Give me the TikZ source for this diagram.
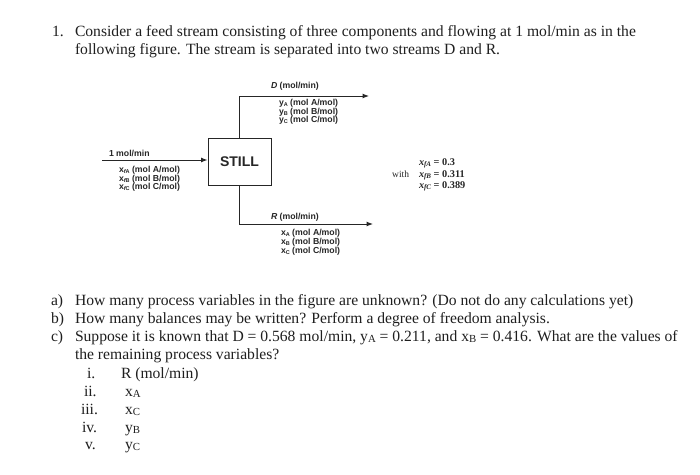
\documentclass[tikz,border=0pt]{standalone}
\usepackage{fontspec}
\setmainfont{Liberation Serif}
\newfontfamily\lsans{Liberation Sans}
\usetikzlibrary{arrows.meta}
\newcommand{\sbs}[1]{\raisebox{-1.2pt}{\fontsize{5.5}{6}\selectfont #1}}
\newcommand{\sbt}[1]{\raisebox{-1pt}{\fontsize{10.8}{12}\selectfont #1}}
\newcommand{\sbf}[1]{\raisebox{-1.4pt}{\fontsize{7}{8}\selectfont\bfseries\itshape #1}}
\tikzset{
 body/.style={anchor=base west,inner sep=0pt,outer sep=0pt,font=\fontsize{15.62}{18}\selectfont,text=black!88},
 lab/.style={anchor=base west,inner sep=0pt,outer sep=0pt,font=\lsans\bfseries\fontsize{8.7}{10}\selectfont,text=black!85},
 eqn/.style={anchor=base west,inner sep=0pt,outer sep=0pt,font=\bfseries\fontsize{10.3}{12}\selectfont,text=black!85},
 flow/.style={line width=1pt,draw=black!85,-{Latex[length=6.5pt,width=5pt]}},
 still/.style={draw=black!85,line width=1pt,minimum width=63pt,minimum height=47pt,inner sep=0pt,font=\lsans\bfseries\fontsize{14}{16}\selectfont,text=black!85},
}
\begin{document}
\begin{tikzpicture}[x=1pt,y=-1pt]
\useasboundingbox (0,0) rectangle (700,474);
\fill[white] (0,0) rectangle (700,474);
% Question text
\node[body] (n1) at (52,36) {1.};
\node[body] (t1) at (75,36) {Consider a feed stream consisting of three components and flowing at 1 mol/min as in the};
\node[body] (t2) at (75,54) {following figure. The stream is separated into two streams D and R.};
\node[body] (la) at (51,305) {a)};
\node[body] (ta) at (75,305) {How many process variables in the figure are unknown? (Do not do any calculations yet)};
\node[body] (lb) at (51,323) {b)};
\node[body] (tb) at (75,323) {How many balances may be written? Perform a degree of freedom analysis.};
\node[body] (lc) at (51,341) {c)};
\node[body] (tc) at (75,341) {Suppose it is known that D = 0.568 mol/min, y\sbt{A} = 0.211, and x\sbt{B} = 0.416. What are the values of};
\node[body] (td) at (75,359) {the remaining process variables?};
\node[body] (li) at (87,378) {i.};
\node[body] (ti) at (121,378) {R (mol/min)};
\node[body] (lii) at (84,396) {ii.};
\node[body] (tii) at (125,396) {x\sbt{A}};
\node[body] (liii) at (81,414) {iii.};
\node[body] (tiii) at (125,414) {x\sbt{C}};
\node[body] (liv) at (82,432) {iv.};
\node[body] (tiv) at (125,432) {y\sbt{B}};
\node[body] (lv) at (85,449) {v.};
\node[body] (tv) at (125,449) {y\sbt{C}};
% Diagram
\node[still] (still) at (239.5,161.5) {STILL};
\coordinate (feed) at (102,160);
\coordinate (dturn) at (239.5,96);
\coordinate (dend) at (369,96);
\coordinate (rturn) at (239.5,224);
\coordinate (rend) at (373,224);
\draw[flow] (feed) -- (feed -| still.west);
\draw[flow] (still.north -| dturn) -- (dturn) -- (dend);
\draw[flow] (still.south -| rturn) -- (rturn) -- (rend);
\node[lab] (fl) at (109,156) {1 mol/min};
\node[lab] (f1) at (119,172) {x\sbs{\itshape f\upshape A} (mol A/mol)};
\node[lab] (f2) at (119,181) {x\sbs{\itshape f\upshape B} (mol B/mol)};
\node[lab] (f3) at (119,189) {x\sbs{\itshape f\upshape C} (mol C/mol)};
\node[lab] (dl) at (271,88) {\itshape D\upshape\ (mol/min)};
\node[lab] (d1) at (279,105) {y\sbs{A} (mol A/mol)};
\node[lab] (d2) at (279,114) {y\sbs{B} (mol B/mol)};
\node[lab] (d3) at (279,122) {y\sbs{C} (mol C/mol)};
\node[lab] (rl) at (271,219) {\itshape R\upshape\ (mol/min)};
\node[lab] (r1) at (281,235) {x\sbs{A} (mol A/mol)};
\node[lab] (r2) at (281,244) {x\sbs{B} (mol B/mol)};
\node[lab] (r3) at (281,253) {x\sbs{C} (mol C/mol)};
\node[anchor=base west,inner sep=0pt,font=\fontsize{9.5}{11}\selectfont,text=black!85] (w) at (392,177) {with};
\node[eqn] (e1) at (419,165) {\itshape x\sbf{fA}\upshape\ = 0.3};
\node[eqn] (e2) at (419,177) {\itshape x\sbf{fB}\upshape\ = 0.311};
\node[eqn] (e3) at (419,188) {\itshape x\sbf{fC}\upshape\ = 0.389};
\end{tikzpicture}
\end{document}
